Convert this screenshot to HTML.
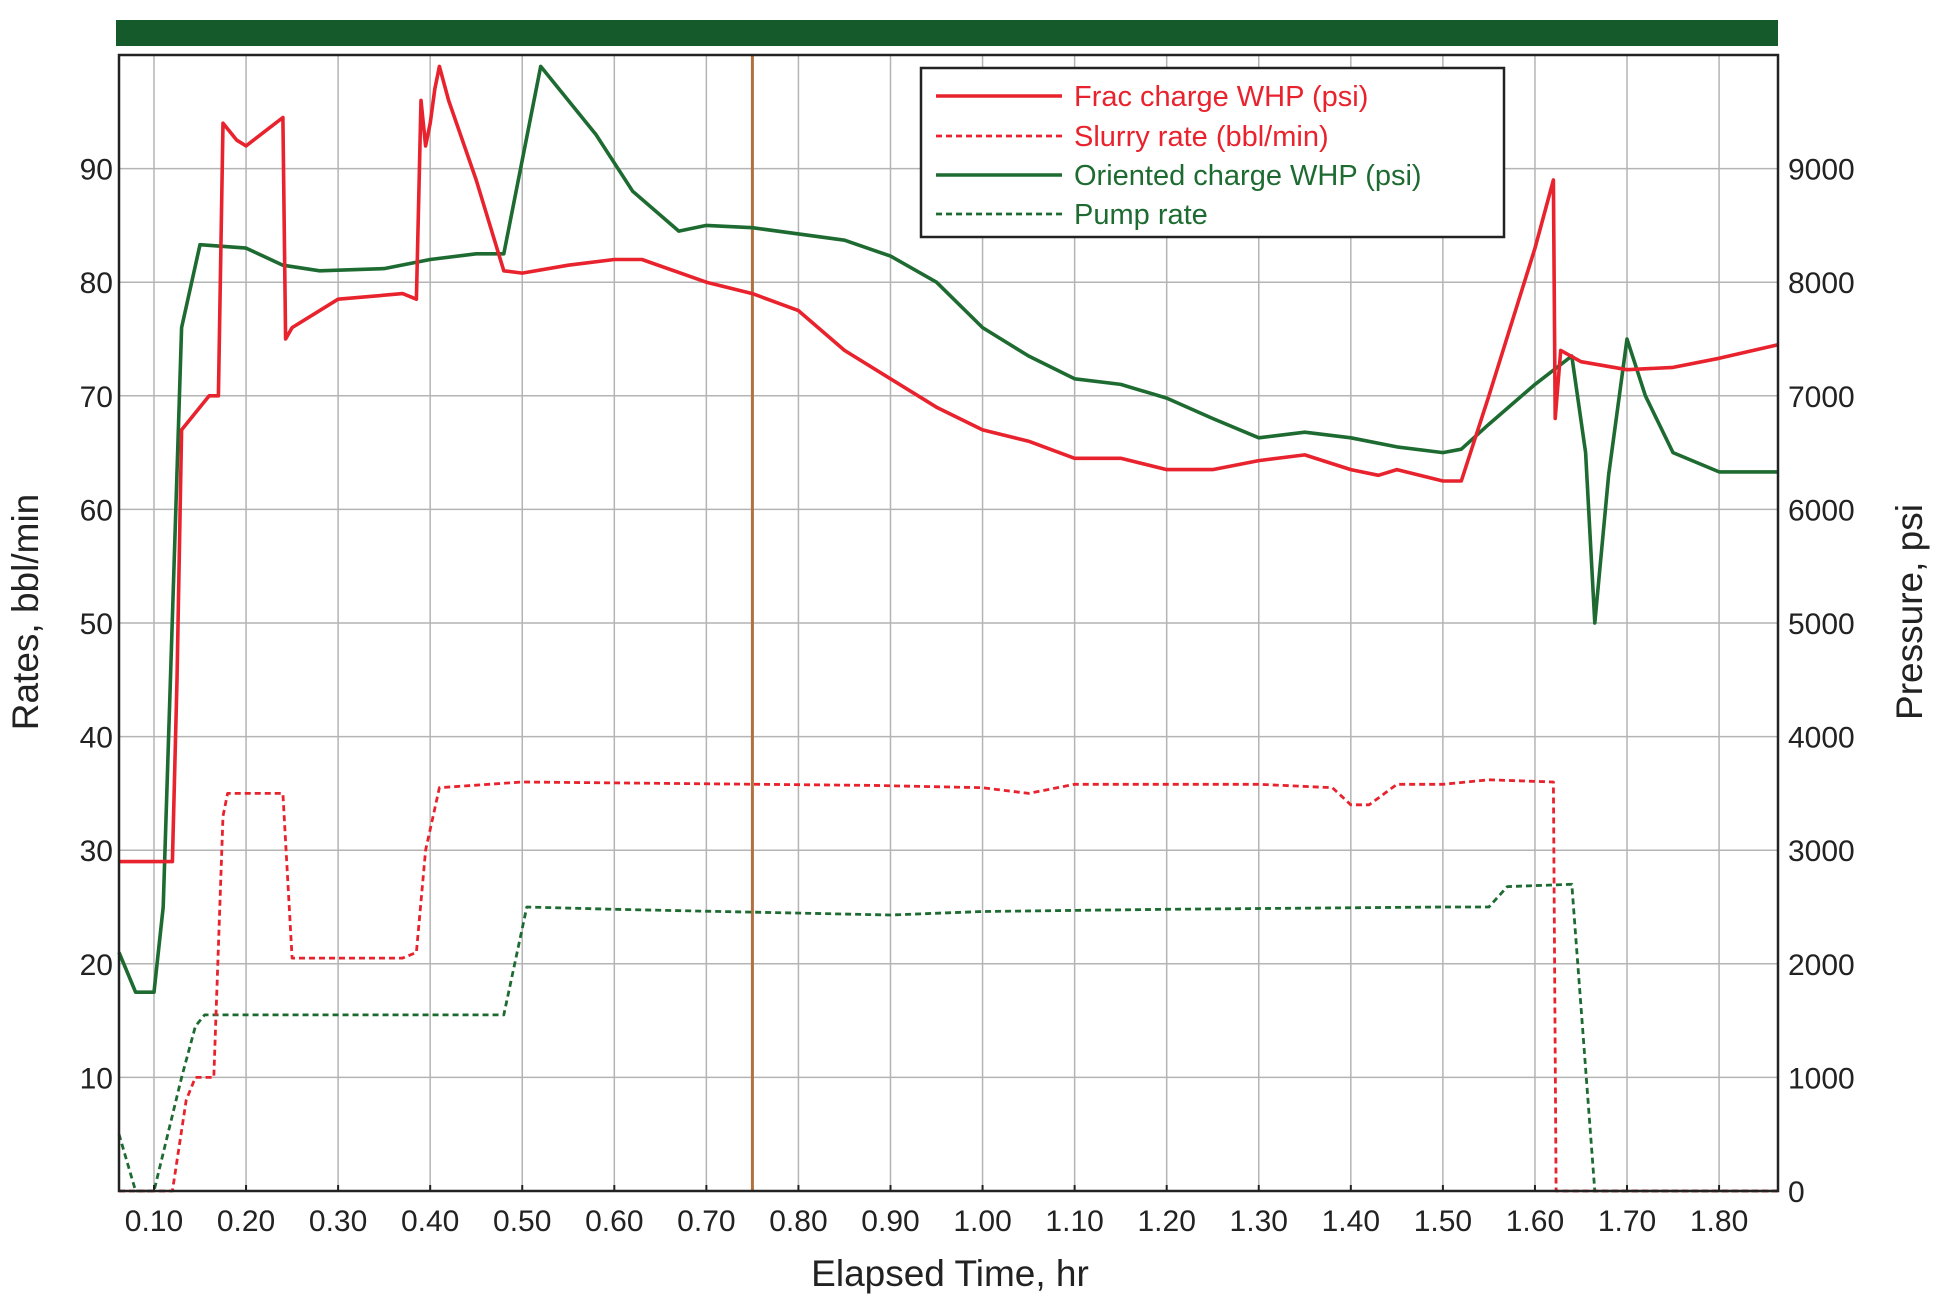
<!DOCTYPE html>
<html><head><meta charset="utf-8"><style>
html,body{margin:0;padding:0;background:#fff;}
svg{display:block;font-family:"Liberation Sans",Arial,sans-serif;}
</style></head><body>
<svg id="chart" width="1939" height="1316" viewBox="0 0 1939 1316">
<rect x="116" y="20" width="1662" height="26" fill="#155a2a"/>
<g id="grid"></g>
<g id="series"></g>
<rect x="119" y="55" width="1659" height="1136" fill="none" stroke="#222" stroke-width="2.5"/>
<g id="ticks"></g>
<text x="950" y="1286" font-size="37" text-anchor="middle" fill="#222">Elapsed Time, hr</text>
<text transform="translate(38,612) rotate(-90)" font-size="37" text-anchor="middle" fill="#222">Rates, bbl/min</text>
<text transform="translate(1922,612) rotate(-90)" font-size="37" text-anchor="middle" fill="#222">Pressure, psi</text>
<g>
<rect x="921" y="68" width="583" height="169" fill="#fff" stroke="#222" stroke-width="2.5"/>
<line x1="936" y1="96" x2="1062" y2="96" stroke="#e8232d" stroke-width="3.5"/>
<text x="1074" y="106" font-size="29" fill="#e8232d">Frac charge WHP (psi)</text>
<line x1="936" y1="136" x2="1062" y2="136" stroke="#e8232d" stroke-width="2.8" stroke-dasharray="6,4"/>
<text x="1074" y="146" font-size="29" fill="#e8232d">Slurry rate (bbl/min)</text>
<line x1="936" y1="175" x2="1062" y2="175" stroke="#1e6b32" stroke-width="3.5"/>
<text x="1074" y="185" font-size="29" fill="#1e6b32">Oriented charge WHP (psi)</text>
<line x1="936" y1="214" x2="1062" y2="214" stroke="#1e6b32" stroke-width="2.8" stroke-dasharray="6,4"/>
<text x="1074" y="224" font-size="29" fill="#1e6b32">Pump rate</text>
</g>
</svg>
<script>
const xTicks=[0.10,0.20,0.30,0.40,0.50,0.60,0.70,0.80,0.90,1.00,1.10,1.20,1.30,1.40,1.50,1.60,1.70,1.80];
const yTicksLeft=[10,20,30,40,50,60,70,80,90];
const yTicksRight=[0,1000,2000,3000,4000,5000,6000,7000,8000,9000];
const markerTime=0.75;
const fracT=[0.062,0.12,0.125,0.13,0.16,0.17,0.175,0.19,0.2,0.24,0.243,0.25,0.3,0.37,0.385,0.39,0.395,0.4,0.405,0.41,0.42,0.45,0.48,0.5,0.55,0.6,0.63,0.7,0.75,0.8,0.85,0.9,0.95,1.0,1.05,1.1,1.15,1.2,1.25,1.3,1.35,1.4,1.43,1.45,1.5,1.52,1.55,1.6,1.62,1.622,1.628,1.65,1.7,1.75,1.8,1.864];
const fracP=[2900,2900,4500,6700,7000,7000,9400,9250,9200,9450,7500,7600,7850,7900,7850,9600,9200,9400,9700,9900,9600,8900,8100,8080,8150,8200,8200,8000,7900,7750,7400,7150,6900,6700,6600,6450,6450,6350,6350,6430,6480,6350,6300,6350,6250,6250,7000,8300,8900,6800,7400,7300,7230,7250,7330,7450];
const oriT=[0.062,0.08,0.1,0.11,0.13,0.15,0.2,0.24,0.28,0.35,0.4,0.45,0.48,0.52,0.58,0.62,0.67,0.7,0.75,0.85,0.9,0.95,1.0,1.05,1.1,1.15,1.2,1.25,1.3,1.35,1.4,1.45,1.5,1.52,1.55,1.6,1.64,1.655,1.665,1.68,1.7,1.72,1.75,1.8,1.864];
const oriP=[2100,1750,1750,2500,7600,8330,8300,8150,8100,8120,8200,8250,8250,9900,9300,8800,8450,8500,8480,8370,8230,8000,7600,7350,7150,7100,6980,6800,6630,6680,6630,6550,6500,6530,6750,7100,7350,6500,5000,6300,7500,7000,6500,6330,6330];
const slurryT=[0.062,0.12,0.135,0.145,0.165,0.175,0.18,0.24,0.25,0.37,0.385,0.395,0.41,0.5,0.88,1.0,1.05,1.1,1.3,1.38,1.4,1.42,1.45,1.5,1.55,1.62,1.623,1.864];
const slurryR=[0,0,8,10,10,33,35,35,20.5,20.5,21,30,35.5,36,35.7,35.5,35,35.8,35.8,35.5,34,34,35.8,35.8,36.2,36,0,0];
const pumpT=[0.062,0.08,0.1,0.13,0.145,0.155,0.48,0.505,0.6,0.9,1.0,1.2,1.5,1.55,1.57,1.64,1.665,1.864];
const pumpR=[5,0,0,10,14.5,15.5,15.5,25,24.8,24.3,24.6,24.8,25,25,26.8,27,0,0];

const X0=119,X1=1778,Y0=1191,Y1=55,TMIN=0.062,TMAX=1.864;
const xs=t=>X0+(t-TMIN)/(TMAX-TMIN)*(X1-X0);
const yl=v=>Y0-v/100*(Y0-Y1);
const yr=p=>Y0-p/10000*(Y0-Y1);
const NS="http://www.w3.org/2000/svg";
function mk(tag,attrs,parent){const e=document.createElementNS(NS,tag);for(const k in attrs)e.setAttribute(k,attrs[k]);parent.appendChild(e);return e;}
const grid=document.getElementById('grid'),ticks=document.getElementById('ticks'),series=document.getElementById('series');
xTicks.forEach(t=>{const x=xs(t);
 const g=mk('line',{x1:x,x2:x,y1:Y1,y2:Y0,stroke:'#b4b4b4','stroke-width':1.5},grid);
 
 
 const tk=mk('line',{x1:x,x2:x,y1:Y0,y2:Y0-6,stroke:'#222','stroke-width':2},ticks);
 
 
 const l=mk('text',{x:x,y:1231,'font-size':30,'text-anchor':'middle',fill:'#222'},ticks);l.textContent=t.toFixed(2);
 
 
});
yTicksLeft.forEach(v=>{const y=yl(v);
 const g=mk('line',{x1:X0,x2:X1,y1:y,y2:y,stroke:'#b4b4b4','stroke-width':1.5},grid);
 
 
 const l=mk('text',{x:113,y:y+11,'font-size':30,'text-anchor':'end',fill:'#222'},ticks);l.textContent=v;
 
 
});
yTicksRight.forEach(p=>{const y=yr(p);
 const l=mk('text',{x:1788,y:y+11,'font-size':30,'text-anchor':'start',fill:'#222'},ticks);l.textContent=p;
 
 
});
const mkline=mk('line',{x1:xs(markerTime),x2:xs(markerTime),y1:Y1,y2:Y0,stroke:'#b0703f','stroke-width':3},series);


function path(T,V,fy,color,dash,name){
 const d=T.map((t,i)=>(i?'L':'M')+xs(t).toFixed(1)+','+fy(V[i]).toFixed(1)).join('');
 const a={d:d,fill:'none',stroke:color,'stroke-width':dash?2.8:3.6,'stroke-linejoin':'round'};
 if(dash)a['stroke-dasharray']='6,4';
 const p=mk('path',a,series);
 
 
}
path(pumpT,pumpR,yl,'#1e6b32',true,'pump-rate-line');
path(slurryT,slurryR,yl,'#e8232d',true,'slurry-rate-line');
path(oriT,oriP,yr,'#1e6b32',false,'oriented-charge-whp-line');
path(fracT,fracP,yr,'#e8232d',false,'frac-charge-whp-line');
</script>
</body></html>
